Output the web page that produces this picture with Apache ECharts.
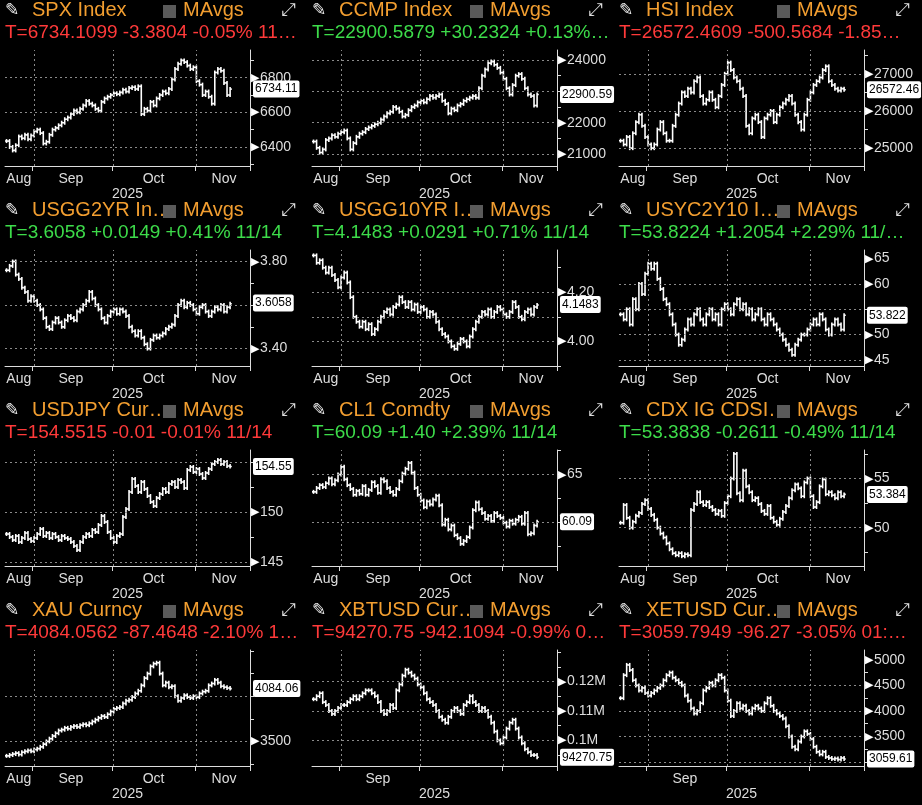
<!DOCTYPE html>
<html>
<head>
<meta charset="utf-8">
<script src="https://cdn.jsdelivr.net/npm/echarts@6/dist/echarts.min.js"></script>
<style>
html,body{margin:0;padding:0;background:#000;}
#chart{width:922px;height:805px;}
</style>
</head>
<body>
<div id="chart"></div>
<script>
// daily closes, Aug -> Nov 14 2025
var spx = [6434,6400,6380,6410,6460,6450,6470,6445,6466,6490,6500,6480,6420,6430,6470,6500,6510,6525,6540,6560,6570,6590,6610,6600,6620,6640,6665,6650,6640,6620,6610,6660,6680,6690,6700,6710,6705,6715,6730,6720,6740,6745,6735,6750,6590,6620,6610,6660,6640,6680,6700,6720,6710,6735,6790,6850,6880,6900,6890,6870,6850,6860,6780,6760,6700,6720,6690,6650,6830,6850,6840,6770,6700,6734.11];
var ccmp = [21400,21200,21050,21150,21450,21500,21600,21550,21650,21700,21750,21500,21150,21350,21550,21650,21700,21800,21850,21900,21950,22000,22100,22200,22300,22350,22500,22450,22350,22200,22250,22400,22500,22550,22650,22700,22650,22750,22850,22800,22850,22900,22700,22600,22300,22450,22400,22550,22600,22700,22750,22800,22850,22800,23100,23500,23700,23900,23950,23850,23750,23600,23400,23100,22900,23200,23500,23550,23400,23100,22900,22850,22550,22900.59];
var hsi = [25200,25100,25300,25000,25400,25700,25900,25600,25300,25100,25000,25100,25500,25700,25400,25200,25200,25600,25900,26200,26500,26400,26600,26500,26800,26900,26400,26200,26300,26500,26300,26100,26400,26700,27000,27300,27100,26900,26800,26600,26400,25600,25400,25800,25900,25700,25300,25800,25900,26000,25700,25900,26100,26200,26300,26400,26200,25900,25700,25500,25900,26300,26500,26700,26800,26900,27100,27200,26800,26700,26600,26550,26600,26572.46];
var usgg2 = [3.76,3.78,3.80,3.74,3.72,3.68,3.66,3.62,3.64,3.62,3.60,3.58,3.54,3.50,3.49,3.52,3.54,3.52,3.50,3.53,3.55,3.54,3.53,3.57,3.58,3.60,3.62,3.66,3.63,3.60,3.58,3.54,3.52,3.55,3.57,3.58,3.56,3.58,3.57,3.55,3.50,3.48,3.46,3.48,3.45,3.42,3.40,3.44,3.46,3.45,3.46,3.47,3.49,3.50,3.51,3.55,3.60,3.62,3.59,3.61,3.60,3.58,3.56,3.59,3.60,3.57,3.55,3.57,3.59,3.58,3.60,3.57,3.59,3.6058];
var usgg10 = [4.35,4.32,4.33,4.30,4.28,4.30,4.27,4.25,4.22,4.26,4.28,4.24,4.18,4.10,4.08,4.06,4.08,4.05,4.07,4.03,4.05,4.08,4.10,4.12,4.13,4.11,4.14,4.15,4.18,4.16,4.14,4.16,4.13,4.15,4.12,4.14,4.13,4.10,4.12,4.11,4.08,4.05,4.03,4.02,4.00,3.98,3.97,3.99,4.01,4.00,3.98,4.02,4.05,4.08,4.10,4.12,4.11,4.13,4.10,4.12,4.14,4.13,4.11,4.10,4.12,4.16,4.14,4.10,4.09,4.12,4.13,4.11,4.14,4.1483];
var usyc = [54,53,55,52,57,55,60,58,62,64,63,64,61,59,57,56,54,52,50,48,49,51,53,52,54,55,53,52,54,55,53,54,52,55,56,55,54,56,57,55,56,54,55,53,54,55,53,52,54,53,52,51,50,49,48,47,46,48,49,50,50,51,52,53,52,54,53,51,50,52,53,52,51,53.82];
var usdjpy = [147.8,147.5,147.2,147.6,147.0,147.4,147.9,147.3,147.1,147.4,147.8,148.3,147.6,147.9,147.4,147.8,147.5,147.2,147.6,147.4,147.3,147.0,146.6,146.2,147.0,147.5,147.8,147.6,148.2,148.0,148.7,149.6,149.0,148.0,147.4,147.0,147.6,147.8,149.5,150.3,152.0,153.3,152.6,152.0,153.0,152.3,151.6,151.0,150.6,151.4,151.8,152.3,152.0,152.8,153.0,152.5,153.2,153.0,152.4,154.2,154.5,154.0,154.3,153.8,153.4,153.9,154.3,154.8,155.0,155.2,154.8,155.0,154.6,154.55];
var cl1 = [63.2,63.6,63.9,63.7,64.1,64.6,64.0,64.4,65.0,65.8,64.5,63.9,63.5,62.9,63.3,63.0,63.8,62.9,63.4,64.2,63.8,63.1,64.5,64.3,63.6,63.2,62.9,63.5,64.3,65.1,65.6,66.2,65.2,63.6,62.9,62.3,61.6,62.2,61.9,62.4,62.8,61.8,59.8,60.3,59.3,59.7,58.7,58.4,57.8,58.1,58.5,59.5,61.3,62.1,61.4,61.0,60.4,60.7,60.2,61.0,60.7,60.5,60.0,59.6,60.2,59.9,60.3,60.6,59.9,61.0,58.8,58.9,59.7,60.09];
var cdx = [50.5,52.3,51.0,50.0,50.6,51.2,51.5,52.4,52.8,51.9,51.3,50.8,50.0,49.4,49.0,48.4,47.8,47.4,47.2,47.4,47.1,47.3,47.2,51.8,52.4,53.6,52.6,52.3,52.6,52.1,51.8,51.4,51.7,51.2,52.5,53.2,55.0,57.5,53.5,52.8,55.8,54.2,53.6,52.8,53.0,52.4,51.7,51.4,52.2,51.0,50.6,50.3,50.9,51.6,52.2,53.0,53.8,54.4,54.0,53.2,54.6,55.0,53.2,52.1,52.6,54.2,54.9,53.4,53.6,53.3,53.0,53.6,53.2,53.384];
var xau = [3340,3350,3360,3370,3355,3380,3390,3400,3390,3410,3420,3440,3470,3500,3530,3560,3590,3620,3630,3650,3640,3660,3670,3660,3680,3690,3680,3700,3720,3740,3760,3780,3770,3800,3830,3860,3870,3880,3920,3950,3960,3990,4030,4060,4120,4200,4250,4330,4360,4370,4250,4120,4150,4100,4110,4000,3950,3980,4010,3990,3980,4000,3990,4030,4050,4060,4120,4140,4180,4150,4110,4100,4090,4084.06];
var xbt = [114000,115000,116000,113000,112000,110000,109000,110000,111000,112000,112000,113000,114000,115000,114000,115000,116000,117000,117000,116000,115000,113000,110000,109000,110000,112000,111000,117000,119000,122000,124000,123000,122000,121000,119000,118000,116000,114000,113000,112000,110000,108000,107000,106000,108000,110000,111000,110000,109000,112000,113000,115000,113000,112000,110000,111000,110000,108000,106000,103000,100000,99000,101000,104000,106000,107000,104000,101000,99000,97000,96000,95000,95000,94270.75];
var xet = [4250,4700,4900,4800,4600,4500,4400,4450,4350,4300,4350,4400,4450,4500,4600,4700,4750,4650,4600,4550,4500,4300,4200,4050,3950,4000,4150,4400,4450,4550,4500,4600,4700,4650,4400,4200,3900,4000,4150,4050,4100,4000,3950,4050,4100,4050,4000,4150,4250,4100,4000,3950,3900,3850,3700,3500,3300,3250,3400,3500,3600,3550,3450,3300,3200,3150,3200,3100,3080,3060,3070,3050,3080,3059.61];

var monthLabels = {4: 'Aug', 21: 'Sep', 48: 'Oct', 71: 'Nov'};
var monthLines = [9, 35, 62];

var panels = [
  {title: 'SPX Index', quote: 'T=6734.1099 -3.3804 -0.05% 11…', up: false, data: spx, last: '6734.11',
   min: 6290, max: 6960, ticks: [6300,6400,6500,6600,6700,6800,6900], labels: [6400,6600,6800], grids: [6400,6600,6800]},
  {title: 'CCMP Index', quote: 'T=22900.5879 +30.2324 +0.13%…', up: true, data: ccmp, last: '22900.59',
   min: 20620, max: 24320, ticks: [21000,21500,22000,22500,23000,23500,24000], labels: [21000,22000,24000], grids: [21000,22000,23000,24000]},
  {title: 'HSI Index', quote: 'T=26572.4609 -500.5684 -1.85…', up: false, data: hsi, last: '26572.46',
   min: 24520, max: 27640, ticks: [25000,25500,26000,26500,27000,27500], labels: [25000,26000,27000], grids: [25000,26000,27000]},
  {title: 'USGG2YR In…', quote: 'T=3.6058 +0.0149 +0.41% 11/14', up: true, data: usgg2, last: '3.6058', dec: 2,
   min: 3.32, max: 3.853, ticks: [3.4,3.5,3.6,3.7,3.8], labels: [3.4,3.8], grids: [3.4,3.6,3.8]},
  {title: 'USGG10YR I…', quote: 'T=4.1483 +0.0291 +0.71% 11/14', up: true, data: usgg10, last: '4.1483', dec: 2,
   min: 3.9, max: 4.372, ticks: [3.9,4.0,4.1,4.2,4.3], labels: [4.0,4.2], grids: [4.0,4.1,4.2]},
  {title: 'USYC2Y10 I…', quote: 'T=53.8224 +1.2054 +2.29% 11/…', up: true, data: usyc, last: '53.822',
   min: 43.8, max: 66.7, ticks: [45,50,55,60,65], labels: [45,50,60,65], grids: [45,50,55,60]},
  {title: 'USDJPY Cur…', quote: 'T=154.5515 -0.01 -0.01% 11/14', up: false, data: usdjpy, last: '154.55',
   min: 144.6, max: 156.2, ticks: [145,147.5,150,152.5,155], labels: [145,150], grids: [145,150,155]},
  {title: 'CL1 Comdty', quote: 'T=60.09 +1.40 +2.39% 11/14', up: true, data: cl1, last: '60.09',
   min: 55.5, max: 67.55, ticks: [57.5,60,62.5,65,67.5], labels: [65], grids: [60,65]},
  {title: 'CDX IG CDSI…', quote: 'T=53.3838 -0.2611 -0.49% 11/14', up: true, data: cdx, last: '53.384',
   min: 46.1, max: 57.9, ticks: [47.5,50,52.5,55,57.5], labels: [50,55], grids: [50,55]},
  {title: 'XAU Curncy', quote: 'T=4084.0562 -87.4648 -2.10% 1…', up: false, data: xau, last: '4084.06',
   min: 3228, max: 4511, ticks: [3250,3500,3750,4000,4250,4500], labels: [3500], grids: [3500,4000]},
  {title: 'XBTUSD Cur…', quote: 'T=94270.75 -942.1094 -0.99% 0…', up: false, data: xbt, last: '94270.75', crypto: true,
   min: 91300, max: 130700, ticks: [95000,100000,105000,110000,115000,120000,125000,130000], labels: [100000,110000,120000], grids: [100000,110000,120000]},
  {title: 'XETUSD Cur…', quote: 'T=3059.7949 -96.27 -3.05% 01:…', up: false, data: xet, last: '3059.61', crypto: true,
   min: 2923, max: 5192, ticks: [3000,3250,3500,3750,4000,4250,4500,4750,5000], labels: [3500,4000,4500,5000], grids: [3000,3500,4000,4500]}
];

var FONT = '"Liberation Sans", Arial, sans-serif';
var ORANGE = '#f29e30', RED = '#ff3a3a', GREEN = '#3ddc4a';
var slots = [];
for (var s = 0; s < 80; s++) slots.push(String(s));

function fmtTick(p, v) {
  if (p.max > 100000) return (v / 1000000).toFixed(2).replace(/0$/, '').replace(/\.0$/, '') + 'M';
  if (p.dec) return v.toFixed(p.dec);
  return String(v);
}

function renderBar(params, api) {
  var c = api.coord([api.value(0), api.value(2)]);
  var o = api.coord([api.value(0), api.value(1)]);
  var w = api.size([1, 0])[0] * 0.55;
  var y1 = Math.min(o[1], c[1]) - 2, y2 = Math.max(o[1], c[1]) + 2;
  var st = {stroke: '#fff', lineWidth: 1.6};
  return {type: 'group', children: [
    {type: 'line', shape: {x1: c[0], y1: y1, x2: c[0], y2: y2}, style: st},
    {type: 'line', shape: {x1: c[0] - w, y1: o[1], x2: c[0], y2: o[1]}, style: st},
    {type: 'line', shape: {x1: c[0], y1: c[1], x2: c[0] + w, y2: c[1]}, style: st}
  ]};
}

var grids = [], xAxes = [], yAxes = [], series = [], graphics = [];
panels.forEach(function (p, i) {
  var col = i % 3, row = Math.floor(i / 3);
  var ox = col * 307, oy = row * 200;
  grids.push({left: ox + 5, top: oy + 50, width: 245, height: 116});
  xAxes.push({
    type: 'category', gridIndex: i, data: slots, boundaryGap: true,
    axisLine: {lineStyle: {color: '#ddd'}},
    axisTick: {show: true, interval: function (idx) { return monthLines.indexOf(idx) >= 0; }, length: 5, lineStyle: {color: '#ddd'}},
    axisLabel: {interval: 0, color: '#ddd', fontFamily: FONT, fontSize: 14, margin: 6,
      formatter: function (v, idx) { var m = monthLabels[idx]; if (p.crypto && m !== 'Sep') return ''; return m || ''; }},
    splitLine: {show: false},
    name: '2025', nameLocation: 'middle', nameGap: 21,
    nameTextStyle: {color: '#ddd', fontFamily: FONT, fontSize: 14}
  });
  yAxes.push({
    type: 'value', gridIndex: i, position: 'right', min: p.min, max: p.max, scale: true,
    axisLine: {show: true, lineStyle: {color: '#ddd'}},
    axisTick: {show: true, customValues: p.ticks, length: 4, lineStyle: {color: '#ddd'}},
    axisLabel: {customValues: p.labels, color: '#ddd', fontFamily: FONT, fontSize: 14, margin: 1,
      formatter: function (v) { return '{t|▶}' + fmtTick(p, v); },
      rich: {t: {color: '#fff', fontSize: 11, padding: [0, 1, 0, 0]}}},
    splitLine: {show: false}
  });
  var bars = p.data.map(function (v, k) { return [k, k ? p.data[k - 1] : v, v]; });
  series.push({
    type: 'custom', xAxisIndex: i, yAxisIndex: i, renderItem: renderBar, data: bars, silent: true, clip: true, z: 3
  });
  var lines = p.grids.map(function (g) { return {yAxis: g}; });
  monthLines.forEach(function (m) { lines.push({xAxis: m}); });
  series.push({
    type: 'line', xAxisIndex: i, yAxisIndex: i, data: p.data, symbol: 'none', silent: true,
    lineStyle: {opacity: 0}, z: 1,
    markLine: {silent: true, symbol: 'none', animation: false,
      lineStyle: {color: '#8a8a8a', type: [2, 3], width: 1}, label: {show: false},
      data: lines}
  });
  series.push({
    type: 'line', xAxisIndex: i, yAxisIndex: i, data: [], symbol: 'none', silent: true, z: 5,
    markLine: {silent: true, symbol: 'none', animation: false,
      lineStyle: {color: 'rgba(0,0,0,0)', width: 0},
      label: {show: true, position: 'end', formatter: p.last, distance: 3,
        backgroundColor: '#fff', color: '#000', fontFamily: FONT, fontSize: 12,
        padding: [3, 2, 2, 2], borderRadius: 2},
      data: [{yAxis: p.data[p.data.length - 1]}]}
  });
  graphics.push(
    {type: 'text', left: ox + 5, top: oy + 2, style: {text: '✎', fill: '#eee', font: '17px "DejaVu Sans"'}},
    {type: 'text', left: ox + 32, top: oy + 0, style: {text: p.title, fill: ORANGE, font: '20px ' + FONT}},
    {type: 'rect', shape: {x: ox + 163, y: oy + 5, width: 13, height: 13}, style: {fill: '#5a5a5a'}},
    {type: 'text', left: ox + 183, top: oy + 0, style: {text: 'MAvgs', fill: ORANGE, font: '20px ' + FONT}},
    {type: 'text', left: ox + 281, top: oy + 1, style: {text: '⤢', fill: '#ddd', font: '18px "DejaVu Sans"'}},
    {type: 'text', left: ox + 5, top: oy + 23, style: {text: p.quote, fill: p.up ? GREEN : RED, font: '19px ' + FONT}}
  );
});

var chart = echarts.init(document.getElementById('chart'));
chart.setOption({
  backgroundColor: '#000',
  animation: false,
  grid: grids, xAxis: xAxes, yAxis: yAxes, series: series, graphic: graphics
});
</script>
</body>
</html>
